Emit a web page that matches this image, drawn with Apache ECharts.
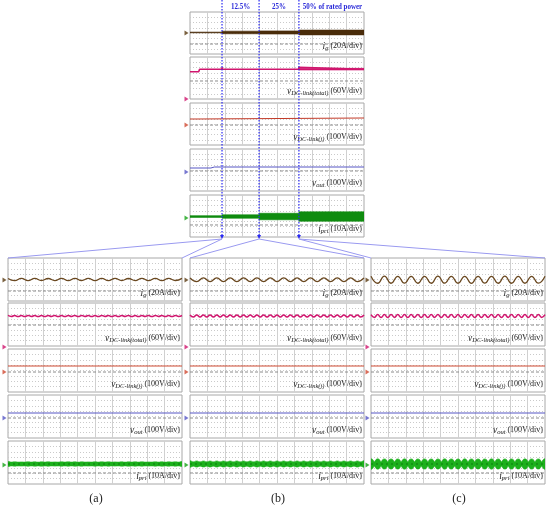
<!DOCTYPE html>
<html>
<head>
<meta charset="utf-8">
<script src="https://cdn.jsdelivr.net/npm/echarts@6/dist/echarts.min.js"></script>
<style>
  html, body { margin: 0; background: #fff; }
  #chart { width: 550px; height: 508px; }
</style>
</head>
<body>
<div id="chart"></div>
<script>
// scope screens: 10 div across, 8 div high per channel strip
const labelMain = ['i', 'v', 'v', 'v', 'i']
const labelSub = ['g', 'DC-link(total)', 'DC-link(j)', 'out', 'pri']
const labelScale = ['(20A/div)', '(60V/div)', '(100V/div)', '(100V/div)', '(10A/div)']
const traceColors = ['#5a3b12', '#d0166e', '#cf4a32', '#5656c4', '#16a316']
const powerSteps = ['12.5%', '25%', '50% of rated power']
const stepDiv = [1.84, 3.97, 6.26]
const columnNames = ['(a)', '(b)', '(c)']

// channel ground markers and dashed reference lines (div)
const topMarker = [4.0, 0.0, 3.8, 3.62, 3.62]
const topDashed = [1.9, 3.43, 3.8, 3.81, 2.29]
const zoomMarker = [3.9, -0.2, 3.72, 3.72, 3.53]
const zoomDashed = [1.86, 3.9, 3.72, 3.72, 2.05]

// ---- overview (load steps 0 -> 12.5% -> 25% -> 50%)
const stepT = [0, 1.84, 1.84, 3.97, 3.97, 6.26, 6.26, 10]
const topIgHi = [4.17, 4.17, 4.35, 4.35, 4.4, 4.4, 4.56, 4.56]
const topIgLo = [4.03, 4.03, 3.85, 3.85, 3.8, 3.8, 3.64, 3.64]
const topVdcT = [0, 0.5, 0.55, 1.83, 1.84, 1.86, 6.24, 6.26, 6.28, 10]
const topVdcV = [5.2, 5.2, 5.66, 5.66, 6.05, 5.66, 5.66, 6.05, 5.68, 5.68]
const topVdcJT = [0, 0.4, 0.45, 10]
const topVdcJV = [4.95, 4.95, 5.14, 5.14]
const topVoutT = [0, 1.2, 1.4, 10]
const topVoutV = [4.38, 4.38, 4.57, 4.57]
const topIpriHalf = [0.17, 0.17, 0.33, 0.33, 0.62, 0.62, 0.9, 0.9]
const topIpriMid = 3.9

// ---- zoomed views, grid current (half-cycle extremes, 13 cycles)
const igA = [4.2, 3.8, 4.21, 3.8, 4.2, 3.81, 4.19, 3.8, 4.2, 3.8, 4.21, 3.81, 4.2, 3.8, 4.2, 3.79, 4.2, 3.81, 4.19, 3.8, 4.2, 3.8, 4.21, 3.8, 4.2, 3.81, 4.2]
const igB = [4.3, 3.6, 4.31, 3.6, 4.3, 3.61, 4.29, 3.6, 4.3, 3.6, 4.31, 3.61, 4.3, 3.6, 4.3, 3.59, 4.3, 3.61, 4.29, 3.6, 4.3, 3.6, 4.31, 3.6, 4.3, 3.61, 4.3]
const igC = [4.6, 3.3, 4.62, 3.3, 4.6, 3.31, 4.59, 3.3, 4.6, 3.3, 4.61, 3.31, 4.6, 3.3, 4.6, 3.29, 4.6, 3.31, 4.6, 3.3, 4.61, 3.3, 4.6, 3.3, 4.6, 3.31, 4.6]
// DC-link total ripple (26 cycles)
const vdcA = [5.68, 5.49, 5.67, 5.48, 5.68, 5.48, 5.68, 5.49, 5.67, 5.48, 5.68, 5.48, 5.67, 5.49, 5.68, 5.48, 5.68, 5.48, 5.67, 5.49, 5.68, 5.48, 5.68, 5.49, 5.67, 5.48, 5.68, 5.48, 5.68, 5.49, 5.67, 5.48, 5.68, 5.48, 5.67, 5.49, 5.68, 5.48, 5.68, 5.48, 5.67, 5.49, 5.68, 5.48, 5.68, 5.49, 5.67, 5.48, 5.68, 5.48, 5.68, 5.49, 5.67]
const vdcB = [5.78, 5.39, 5.77, 5.38, 5.78, 5.38, 5.78, 5.39, 5.77, 5.38, 5.78, 5.38, 5.77, 5.39, 5.78, 5.38, 5.78, 5.38, 5.77, 5.39, 5.78, 5.38, 5.78, 5.39, 5.77, 5.38, 5.78, 5.38, 5.78, 5.39, 5.77, 5.38, 5.78, 5.38, 5.77, 5.39, 5.78, 5.38, 5.78, 5.38, 5.77, 5.39, 5.78, 5.38, 5.78, 5.39, 5.77, 5.38, 5.78, 5.38, 5.78, 5.39, 5.77]
const vdcC = [5.85, 5.32, 5.84, 5.31, 5.85, 5.31, 5.85, 5.32, 5.84, 5.31, 5.85, 5.31, 5.84, 5.32, 5.85, 5.31, 5.85, 5.31, 5.84, 5.32, 5.85, 5.31, 5.85, 5.32, 5.84, 5.31, 5.85, 5.31, 5.85, 5.32, 5.84, 5.31, 5.85, 5.31, 5.84, 5.32, 5.85, 5.31, 5.85, 5.31, 5.84, 5.32, 5.85, 5.31, 5.85, 5.32, 5.84, 5.31, 5.85, 5.31, 5.85, 5.32, 5.84]
const vdcJ = [4.84, 4.84]
const vout = [4.65, 4.65]
// primary current envelope half-width (26 bumps)
const ipriMid = 3.72
const ipriA = [0.4, 0.36, 0.4, 0.36, 0.39, 0.36, 0.4, 0.36, 0.4, 0.35, 0.4, 0.36, 0.4, 0.36, 0.39, 0.36, 0.4, 0.36, 0.4, 0.36, 0.4, 0.35, 0.4, 0.36, 0.39, 0.36, 0.4, 0.36, 0.4, 0.36, 0.4, 0.36, 0.39, 0.36, 0.4, 0.35, 0.4, 0.36, 0.4, 0.36, 0.4, 0.36, 0.39, 0.36, 0.4, 0.36, 0.4, 0.35, 0.4, 0.36, 0.4, 0.36, 0.4]
const ipriB = [0.56, 0.4, 0.57, 0.4, 0.56, 0.41, 0.56, 0.4, 0.57, 0.4, 0.56, 0.4, 0.56, 0.41, 0.57, 0.4, 0.56, 0.4, 0.56, 0.4, 0.57, 0.41, 0.56, 0.4, 0.56, 0.4, 0.57, 0.4, 0.56, 0.41, 0.56, 0.4, 0.57, 0.4, 0.56, 0.4, 0.56, 0.41, 0.57, 0.4, 0.56, 0.4, 0.56, 0.4, 0.57, 0.41, 0.56, 0.4, 0.56, 0.4, 0.57, 0.4, 0.56]
// (c) read at peak, shoulder, neck, shoulder of every bump
const ipriC = [
  0.95, 0.83, 0.42, 0.83, 0.96, 0.84, 0.42, 0.83, 0.95, 0.83, 0.43, 0.83, 0.94, 0.83, 0.42, 0.84,
  0.95, 0.83, 0.42, 0.83, 0.96, 0.84, 0.43, 0.83, 0.95, 0.83, 0.42, 0.83, 0.95, 0.83, 0.41, 0.83,
  0.95, 0.84, 0.43, 0.83, 0.94, 0.83, 0.42, 0.83, 0.95, 0.83, 0.42, 0.84, 0.96, 0.84, 0.42, 0.83,
  0.95, 0.83, 0.43, 0.83, 0.95, 0.83, 0.42, 0.83, 0.96, 0.84, 0.42, 0.83, 0.95, 0.83, 0.43, 0.83,
  0.94, 0.83, 0.42, 0.84, 0.95, 0.83, 0.42, 0.83, 0.96, 0.84, 0.43, 0.83, 0.95, 0.83, 0.42, 0.83,
  0.95, 0.83, 0.41, 0.83, 0.95, 0.84, 0.43, 0.83, 0.94, 0.83, 0.42, 0.83, 0.96, 0.83, 0.42, 0.84,
  0.95, 0.84, 0.42, 0.83, 0.95, 0.83, 0.43, 0.83, 0.95
]

const TOP = { left: 190, width: 174, tops: [12, 57, 103, 149, 195], height: 42 }
const ZOOM = { lefts: [8, 190, 371], width: 174, tops: [258, 303, 349, 395, 441], height: 43 }

const grids = []
const xAxes = []
const yAxes = []
const series = []

function addPanel(left, top, width, height) {
  const g = grids.length
  grids.push({ left: left, top: top, width: width, height: height, show: true, backgroundColor: '#fff', borderColor: '#a8a8a8', borderWidth: 1 })
  xAxes.push({
    type: 'value', gridIndex: g, min: 0, max: 10, interval: 1,
    axisLine: { show: false }, axisTick: { show: false }, axisLabel: { show: false },
    splitLine: { show: true, showMinLine: false, showMaxLine: false, lineStyle: { color: '#d0d0d0', width: 1 } }
  })
  yAxes.push({
    type: 'value', gridIndex: g, min: 0, max: 8, interval: 1,
    axisLine: { show: false }, axisTick: { show: false }, axisLabel: { show: false },
    splitLine: { show: true, showMinLine: false, showMaxLine: false, lineStyle: { color: '#cacaca', width: 1, type: [1, 2] } }
  })
  return g
}

// evenly sampled trace across the whole screen
function spread(vals) {
  return vals.map((v, i) => [i * 10 / (vals.length - 1), v])
}

function lineSeries(g, data, color, width, smooth) {
  series.push({
    type: 'line', xAxisIndex: g, yAxisIndex: g, data: data, smooth: smooth || false,
    showSymbol: false, silent: true, animation: false,
    lineStyle: { color: color, width: width }
  })
}

function bandSeries(g, t, lo, hi, color, smooth) {
  series.push({
    type: 'custom', xAxisIndex: g, yAxisIndex: g, silent: true, animation: false, clip: true,
    data: t.map((x, i) => [x, lo[i], hi[i]]),
    renderItem: function (params, api) {
      if (params.dataIndex !== 0) return null
      const upper = t.map((x, i) => api.coord([x, hi[i]]))
      const lower = t.map((x, i) => api.coord([x, lo[i]])).reverse()
      return {
        type: 'polygon',
        shape: { points: upper.concat(lower), smooth: smooth || 0 },
        style: { fill: color, stroke: color, lineWidth: 0.6 }
      }
    }
  })
}

function decorate(g, row, markerLevel, dashedLevel) {
  lineSeries(g, [[0, dashedLevel], [10, dashedLevel]], '#8c8c8c', 1, false)
  series[series.length - 1].lineStyle.type = [3, 2]
  series.push({
    type: 'scatter', xAxisIndex: g, yAxisIndex: g, clip: false, silent: true, animation: false,
    symbol: 'triangle', symbolRotate: -90, symbolSize: [5, 4],
    itemStyle: { color: traceColors[row] },
    data: [[-0.2, markerLevel]]
  })
}

// overview column
const topG = TOP.tops.map((t) => addPanel(TOP.left, t, TOP.width, TOP.height))
topG.forEach((g, r) => decorate(g, r, topMarker[r], topDashed[r]))
bandSeries(topG[0], stepT, topIgLo, topIgHi, '#4a2c0a', 0)
lineSeries(topG[1], topVdcT.map((x, i) => [x, topVdcV[i]]), traceColors[1], 1.6)
bandSeries(topG[1], [6.26, 10], [5.52, 5.52], [5.84, 5.84], traceColors[1], 0)
lineSeries(topG[2], topVdcJT.map((x, i) => [x, topVdcJV[i]]), '#c23a28', 1.2)
lineSeries(topG[3], topVoutT.map((x, i) => [x, topVoutV[i]]), traceColors[3], 1)
bandSeries(topG[4], stepT, topIpriHalf.map((h) => topIpriMid - h), topIpriHalf.map((h) => topIpriMid + h), '#0f8c0f', 0)

// zoomed columns
const igSets = [igA, igB, igC]
const vdcSets = [vdcA, vdcB, vdcC]
const ipriSets = [ipriA, ipriB, ipriC]
const ipriSmooth = [0.6, 0.6, 0.4]
const zoomG = ZOOM.lefts.map((left) => ZOOM.tops.map((t) => addPanel(left, t, ZOOM.width, ZOOM.height)))
zoomG.forEach((col, c) => {
  col.forEach((g, r) => decorate(g, r, zoomMarker[r], zoomDashed[r]))
  lineSeries(col[0], spread(igSets[c]), '#6a4820', 1.3, true)
  lineSeries(col[1], spread(vdcSets[c]), traceColors[1], 1.5, true)
  lineSeries(col[2], spread(vdcJ), traceColors[2], 1.2)
  lineSeries(col[3], spread(vout), traceColors[3], 1)
  const env = ipriSets[c]
  const t = env.map((v, i) => i * 10 / (env.length - 1))
  bandSeries(col[4], t, env.map((h) => ipriMid - h), env.map((h) => ipriMid + h), '#1cb01c', ipriSmooth[c])
  lineSeries(col[4], [[0, ipriMid], [10, ipriMid]], '#0b7d0b', 1)
  series[series.length - 1].lineStyle.type = [2, 3]
})

const chart = echarts.init(document.getElementById('chart'))
chart.setOption({
  animation: false,
  grid: grids,
  xAxis: xAxes,
  yAxis: yAxes,
  series: series
})

// ---- annotations placed from the grid rectangles
const labelRich = {
  m: { fontFamily: 'Liberation Serif', fontStyle: 'italic', fontSize: 9.5, lineHeight: 12, verticalAlign: 'middle', fill: '#222' },
  s: { fontFamily: 'Liberation Serif', fontStyle: 'italic', fontSize: 6.5, lineHeight: 6, verticalAlign: 'bottom', fill: '#222' },
  t: { fontFamily: 'Liberation Serif', fontSize: 8, lineHeight: 12, verticalAlign: 'middle', fill: '#222' }
}
const graphics = []
const allPanels = [topG].concat(zoomG)
allPanels.forEach((col) => {
  col.forEach((g, r) => {
    const gr = grids[g]
    graphics.push({
      type: 'text', x: gr.left + gr.width - 2, y: gr.top + gr.height - 2, z: 100,
      style: {
        text: '{m|' + labelMain[r] + '}{s|' + labelSub[r] + '}{t| ' + labelScale[r] + '}',
        rich: labelRich, align: 'right', verticalAlign: 'bottom'
      }
    })
  })
})

// dotted step lines through the overview and the fan to the zoomed views
const stepX = stepDiv.map((d) => chart.convertToPixel({ gridIndex: topG[0] }, [d, 0])[0])
const tipY = 239
stepX.forEach((x, i) => {
  graphics.push({ type: 'line', z: 100, shape: { x1: x, y1: 0, x2: x, y2: tipY - 3 }, style: { stroke: '#2a2af2', lineWidth: 1.2, lineDash: [1.5, 1.5] } })
  graphics.push({ type: 'polygon', z: 100, shape: { points: [[x - 2, tipY - 4], [x + 2, tipY - 4], [x, tipY]] }, style: { fill: '#2a2af2' } })
  const left = ZOOM.lefts[i]
  const top = ZOOM.tops[0]
  graphics.push({ type: 'line', z: 99, shape: { x1: x, y1: tipY, x2: left, y2: top }, style: { stroke: '#9a9af0', lineWidth: 1 } })
  graphics.push({ type: 'line', z: 99, shape: { x1: x, y1: tipY, x2: left + ZOOM.width, y2: top }, style: { stroke: '#9a9af0', lineWidth: 1 } })
})
const labelX = [(stepX[0] + stepX[1]) / 2, (stepX[1] + stepX[2]) / 2, (stepX[2] + TOP.left + TOP.width) / 2 + 1]
powerSteps.forEach((txt, i) => {
  graphics.push({
    type: 'text', x: labelX[i], y: 7, z: 100, scaleX: 0.82,
    style: { text: txt, fontFamily: 'Liberation Serif', fontWeight: 'bold', fontSize: 8.5, fill: '#2a2ad8', align: 'center', verticalAlign: 'middle' }
  })
})
columnNames.forEach((txt, i) => {
  graphics.push({
    type: 'text', x: ZOOM.lefts[i] + ZOOM.width / 2 + 1, y: 499, z: 100,
    style: { text: txt, fontFamily: 'Liberation Serif', fontSize: 12, fill: '#222', align: 'center', verticalAlign: 'middle' }
  })
})

chart.setOption({ graphic: graphics })
</script>
</body>
</html>
